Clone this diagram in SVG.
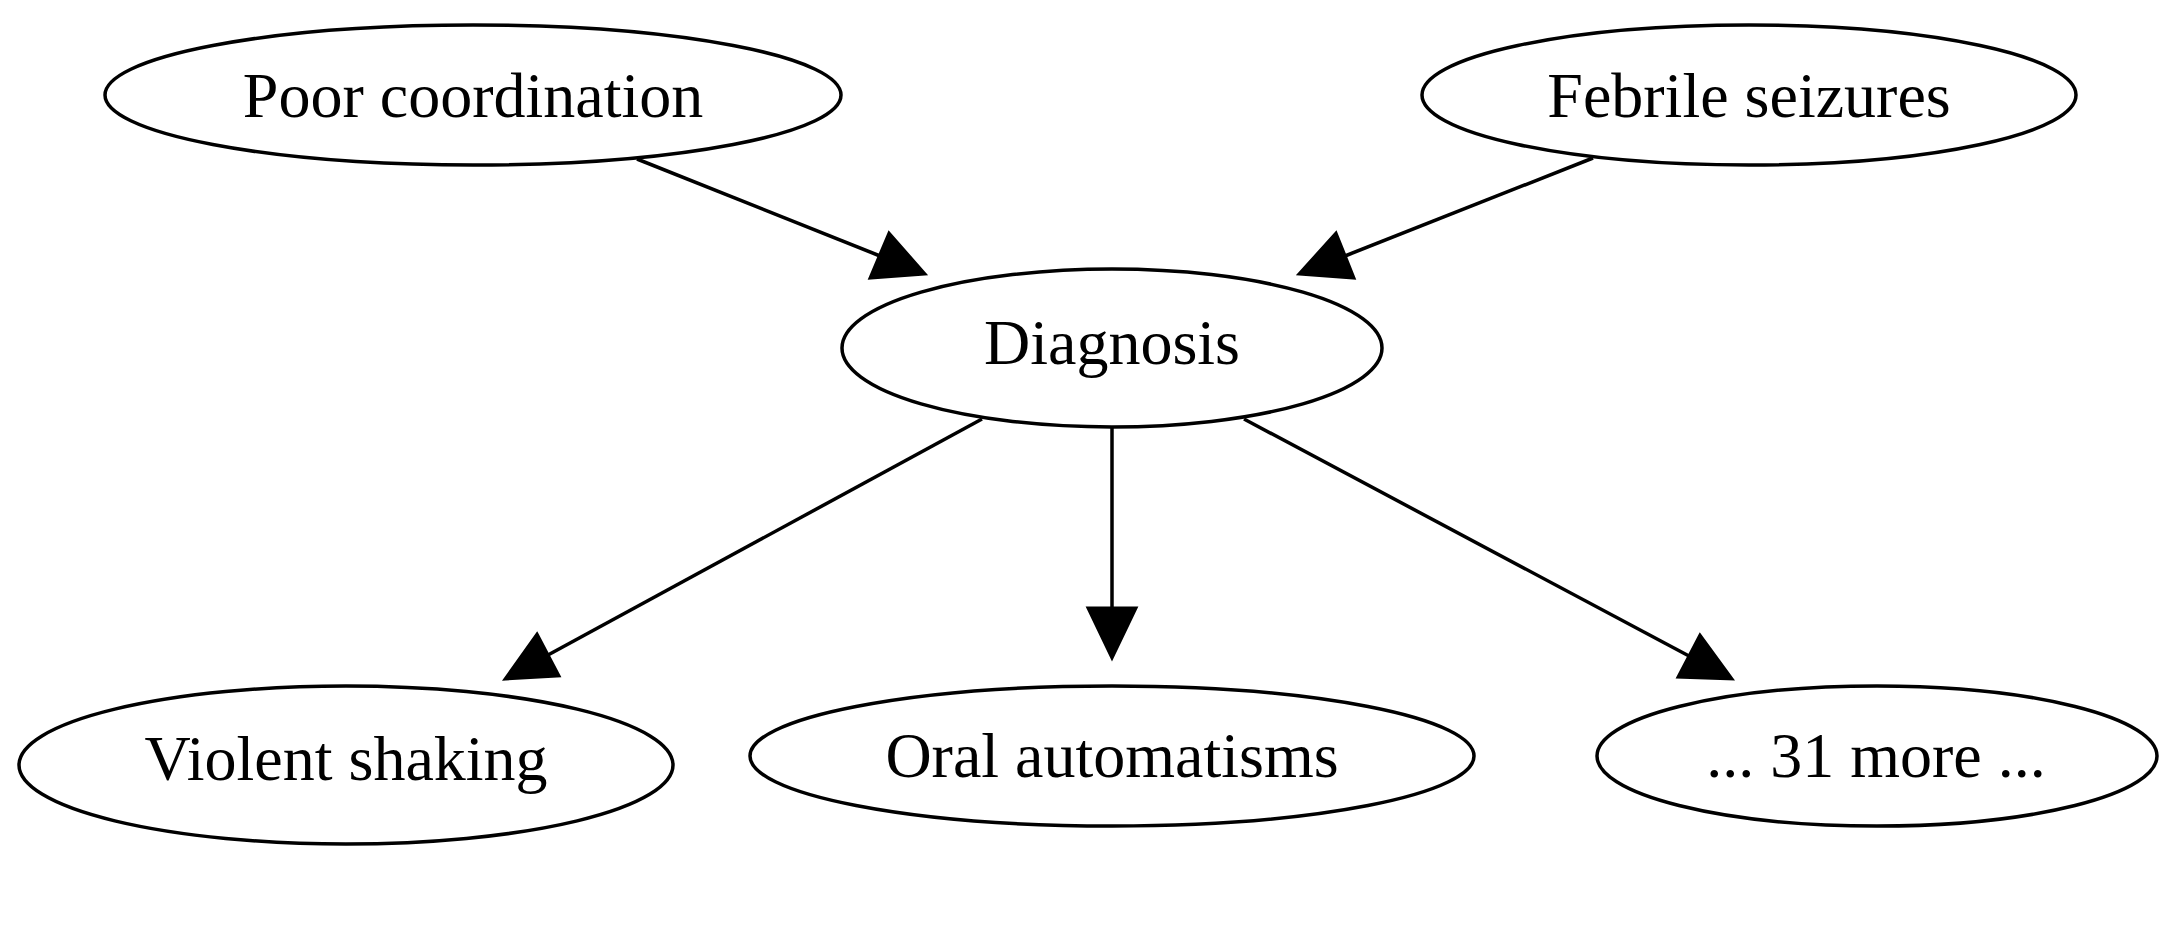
<svg xmlns="http://www.w3.org/2000/svg" width="2182" height="946" viewBox="0 0 2182 946">
<style>
.node ellipse{fill:#fff;stroke:#000;stroke-width:3.5}
.node text{font-family:"Liberation Serif","Times New Roman",serif;font-size:64px;fill:#000;text-anchor:middle}
.edge line{stroke:#000;stroke-width:3.5}
.edge polygon{fill:#000;stroke:#000;stroke-width:3;stroke-linejoin:miter}
</style>
<rect width="2182" height="946" fill="#fff"/>
<g id="edges">
<g class="edge" id="e1"><line x1="637" y1="159" x2="880" y2="256"/><polygon points="889,233 870,278 925,274"/></g>
<g class="edge" id="e2"><line x1="1593" y1="158" x2="1345" y2="256"/><polygon points="1336,233 1354,278 1299,274"/></g>
<g class="edge" id="e3"><line x1="982" y1="419" x2="548" y2="655"/><polygon points="537,634 559,676 505,679"/></g>
<g class="edge" id="e4"><line x1="1112" y1="428" x2="1112" y2="608"/><polygon points="1088,608 1136,608 1112,658"/></g>
<g class="edge" id="e5"><line x1="1244" y1="419" x2="1689" y2="656"/><polygon points="1700,635 1678,677 1732,679"/></g>
</g>
<g class="node" id="poor_coordination"><ellipse cx="473" cy="95" rx="368" ry="70"/><text x="473" y="117">Poor coordination</text></g>
<g class="node" id="febrile_seizures"><ellipse cx="1749" cy="95" rx="327" ry="70"/><text x="1749" y="117">Febrile seizures</text></g>
<g class="node" id="diagnosis"><ellipse cx="1112" cy="348" rx="270" ry="79"/><text x="1112" y="364">Diagnosis</text></g>
<g class="node" id="violent_shaking"><ellipse cx="346" cy="765" rx="327" ry="79"/><text x="346" y="780">Violent shaking</text></g>
<g class="node" id="oral_automatisms"><ellipse cx="1112" cy="756" rx="362" ry="70"/><text x="1112" y="777">Oral automatisms</text></g>
<g class="node" id="more"><ellipse cx="1877" cy="756" rx="280" ry="70"/><text x="1876" y="777">... 31 more ...</text></g>
</svg>
